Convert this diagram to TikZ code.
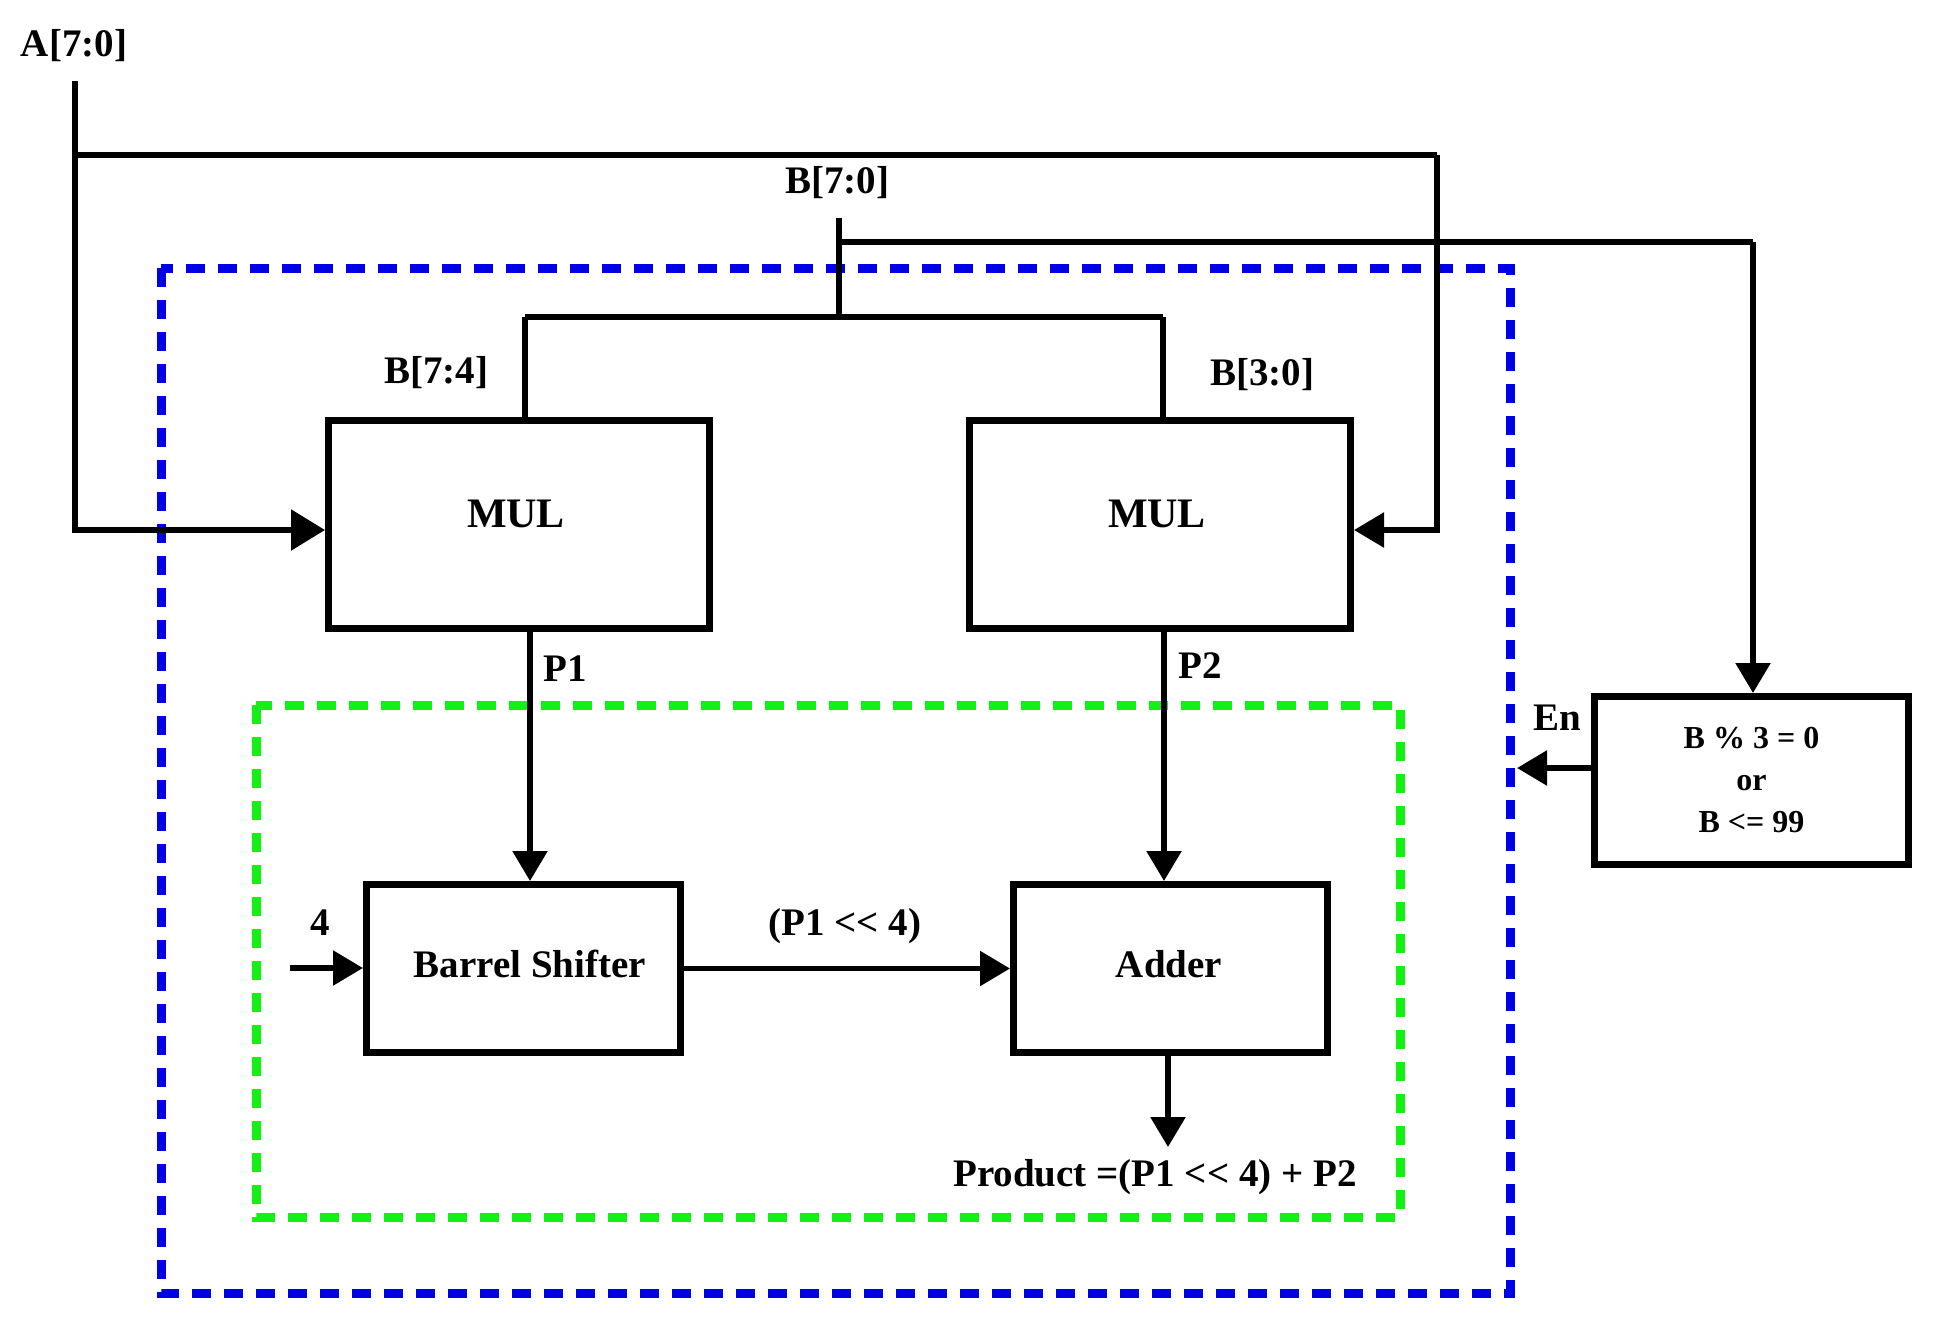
\documentclass[tikz,border=0pt]{standalone}
\usepackage{fontspec}
\setmainfont{Liberation Serif}
\usetikzlibrary{arrows.meta}
\definecolor{fblue}{RGB}{0,0,230}
\definecolor{fgreen}{RGB}{20,240,20}
\newcommand{\shl}{<\kern0pt<}
\begin{document}
\begin{tikzpicture}[x=0.5pt,y=-0.5pt,
  wire/.style={line width=2.8pt},
  arr/.style={wire,-{Triangle[length=15pt,width=17pt]}},
  bigarr/.style={wire,-{Triangle[length=17pt,width=20pt]}},
  blk/.style={draw,line width=3.5pt,minimum width=157pt,minimum height=84pt,inner sep=0pt,font=\fontsize{19.5}{22}\selectfont\bfseries},
  mulblk/.style={blk,minimum width=190.5pt,minimum height=104pt,font=\fontsize{21}{24}\selectfont\bfseries},
  condblk/.style={blk,align=center,font=\fontsize{16}{21}\selectfont\bfseries},
  lbl/.style={inner sep=0pt,font=\fontsize{19.5}{22}\selectfont\bfseries},
  frame/.style={line width=4.5pt,dash pattern=on 9.5pt off 6.5pt}]
\useasboundingbox (0,0) rectangle (1933,1323);
% frames
\draw[frame,fblue] (161,268) rectangle (1510,1293);
\draw[frame,fgreen] (256,705) rectangle (1400,1217);
% blocks
\node[mulblk] (mul1) at (519,524.5) {};
\node[mulblk] (mul2) at (1160,524.5) {};
\node[lbl,font=\fontsize{21}{24}\selectfont\bfseries] (t1) at (516,514) {MUL};
\node[lbl,font=\fontsize{21}{24}\selectfont\bfseries] (t2) at (1157,514) {MUL};
\node[blk] (bs) at (523.5,968.5) {};
\node[blk] (add) at (1170.5,968.5) {};
\node[lbl] (tbs) at (530,964) {Barrel Shifter};
\node[lbl] (tadd) at (1169,964) {Adder};
\node[condblk] (cond) at (1751.5,780.5) {B \% 3 = 0\\or\\B <= 99};
% labels
\node[lbl] (la) at (74,46) {A[7:0]};
\node[lbl] (lb) at (837,183) {B[7:0]};
\node[lbl] (lb74) at (436,373) {B[7:4]};
\node[lbl] (lb30) at (1262,375) {B[3:0]};
\node[lbl] (lp1) at (565,669) {P1};
\node[lbl] (lp2) at (1200,666) {P2};
\node[lbl] (l4) at (320,923) {4};
\node[lbl] (lsh) at (845,926) {(P1 \shl{} 4)};
\node[lbl] (lprod) at (1155,1177) {Product =(P1 \shl{} 4) + P2};
\node[lbl] (len) at (1557,718) {En};
% coordinates
\coordinate (atop) at (75,81);
\coordinate (asplit) at (75,155);
\coordinate (aright) at (1437,155);
\coordinate (ain) at (75,530);
\coordinate (btop) at (839,218);
\coordinate (bsplit) at (839,242);
\coordinate (bright) at (1753,242);
\coordinate (bdiv) at (839,317);
\coordinate (b74) at (525,317);
\coordinate (b30) at (1163,317);
\coordinate (p1x) at (530,700);
\coordinate (p2x) at (1164,700);
\coordinate (four) at (290,968);
\coordinate (prod) at (1168,1147);
\coordinate (en) at (1517,768);
% wires
\draw[bigarr] (atop) -- (ain) -- (ain -| mul1.west);
\draw[wire] (asplit) -- (aright);
\draw[arr] (aright) |- (ain -| mul2.east);
\draw[wire] (btop) -- (bdiv);
\draw[wire] (bsplit) -- (bright);
\draw[arr] (bright) -- (bright |- cond.north);
\draw[wire] (b74) -- (b30);
\draw[wire] (b74) -- (b74 |- mul1.north);
\draw[wire] (b30) -- (b30 |- mul2.north);
\draw[arr] (mul1.south -| p1x) -- (p1x |- bs.north);
\draw[arr] (mul2.south -| p2x) -- (p2x |- add.north);
\draw[arr] (four) -- (four -| bs.west);
\draw[arr] (bs.east) -- (add.west);
\draw[arr] (add.south -| prod) -- (prod);
\draw[arr] (cond.west |- en) -- (en);
\end{tikzpicture}
\end{document}
